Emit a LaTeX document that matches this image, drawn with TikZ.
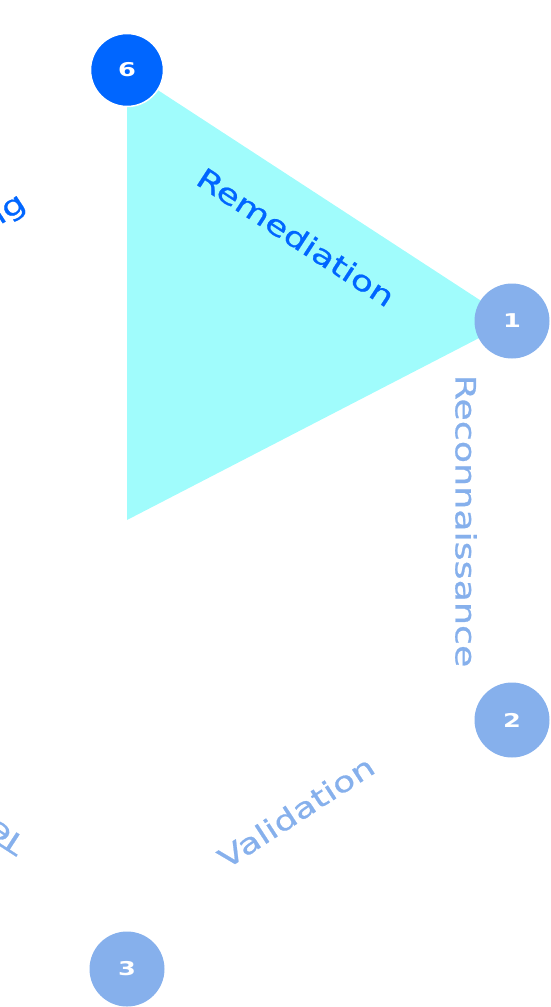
\documentclass[tikz,border=0pt]{standalone}
\usepackage{fontspec}
\newfontfamily\wide[FakeStretch=1.3,FakeBold=0.8]{DejaVu Sans}
\newfontfamily\widenum[FakeStretch=1.35]{DejaVu Sans Bold}
\definecolor{tri}{HTML}{A0FCFC}
\definecolor{dblue}{HTML}{0066FF}
\definecolor{lblue}{HTML}{86B0EC}
\begin{document}
\begin{tikzpicture}[x=1pt,y=-1pt,
  num/.style={circle,minimum size=75pt,inner sep=0pt,text=white,font=\widenum\fontsize{19}{19}\selectfont},
  lbl/.style={font=\wide\fontsize{28}{28}\selectfont,inner sep=0pt}]
\useasboundingbox (0,0) rectangle (550,1007);
\clip (0,0) rectangle (550,1007);
\coordinate (t6) at (127,70);
\coordinate (t1) at (512,321);
\coordinate (tb) at (127,520);
\fill[tri] (t6) -- (t1) -- (tb) -- cycle;
\node[num,fill=dblue,draw=white,line width=1.5pt,minimum size=73pt] (n6) at (127,70) {6};
\node[num,fill=lblue] (n1) at (512,321) {1};
\node[num,fill=lblue] (n2) at (512,720) {2};
\node[num,fill=lblue] (n3) at (127,969) {3};
\node[lbl,text=dblue,rotate=-33] (rem) at (296,237) {Remediation};
\node[lbl,text=lblue,rotate=-90] (rec) at (466,521) {Reconnaissance};
\node[lbl,text=lblue,rotate=33] (val) at (296,812) {Validation};
\node[lbl,text=dblue,rotate=33,anchor=east] (ng) at (25,203) {ng};
\node[lbl,text=lblue,rotate=147,anchor=west] (te) at (22,848) {Te};
\end{tikzpicture}
\end{document}
